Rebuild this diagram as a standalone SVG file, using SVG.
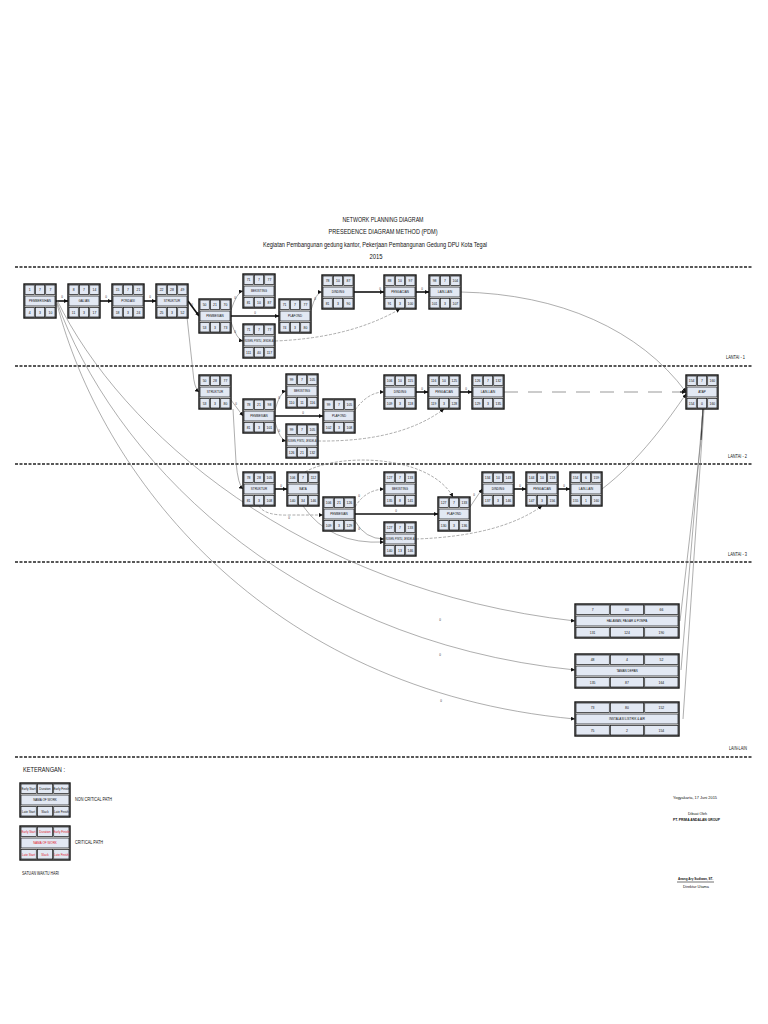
<svg xmlns="http://www.w3.org/2000/svg" xmlns:xlink="http://www.w3.org/1999/xlink" width="768" height="1024" viewBox="0 0 768 1024">
<style>
text{font-family:"Liberation Sans",Arial,sans-serif;fill:#111}
.t{font-size:3.4px;text-anchor:middle}
.nm{font-size:3px;text-anchor:middle}
.sep{stroke:#222;stroke-width:1.6;stroke-dasharray:3 1.5;fill:none}
.c{fill:#e2e8f3;stroke:#111;stroke-width:0.7}
.fr{fill:#fff;stroke:#111;stroke-width:1.4}
.crit{stroke:#111;stroke-width:1.6;fill:none}
.thin{stroke:#777;stroke-width:0.6;fill:none}
.dash{stroke:#888;stroke-width:0.7;fill:none;stroke-dasharray:3 1.5}
.ldash{stroke:#999;stroke-width:1;fill:none;stroke-dasharray:14 10}
.lag{font-size:3px;text-anchor:middle;fill:#333}
.title{font-size:8px;text-anchor:middle}
.small{font-size:4.5px}
.red text{fill:#e0202a}
</style>
<defs>
<marker id="ar" markerWidth="4" markerHeight="4" refX="4" refY="2" orient="auto" markerUnits="userSpaceOnUse"><path d="M0,0 L4,2 L0,4z" fill="#111"/></marker>
<g id="nb">
<rect class="fr" x="0" y="0" width="32" height="34"/>
<rect class="c" x="1" y="1" width="9.3" height="9.6"/><rect class="c" x="11.35" y="1" width="9.3" height="9.6"/><rect class="c" x="21.7" y="1" width="9.3" height="9.6"/>
<rect class="c" x="1" y="12" width="30" height="10"/>
<rect class="c" x="1" y="23.4" width="9.3" height="9.6"/><rect class="c" x="11.35" y="23.4" width="9.3" height="9.6"/><rect class="c" x="21.7" y="23.4" width="9.3" height="9.6"/>
</g>
<g id="lb">
<rect class="fr" x="0" y="0" width="104" height="34"/>
<rect class="c" x="1" y="1" width="33.3" height="9.6"/><rect class="c" x="35.35" y="1" width="33.3" height="9.6"/><rect class="c" x="69.7" y="1" width="33.3" height="9.6"/>
<rect class="c" x="1" y="12" width="102" height="10"/>
<rect class="c" x="1" y="23.4" width="33.3" height="9.6"/><rect class="c" x="35.35" y="23.4" width="33.3" height="9.6"/><rect class="c" x="69.7" y="23.4" width="33.3" height="9.6"/>
</g>
<g id="gb">
<rect class="fr" x="0" y="0" width="50" height="34"/>
<rect class="c" x="1" y="1" width="15.3" height="9.6"/><rect class="c" x="17.35" y="1" width="15.3" height="9.6"/><rect class="c" x="33.7" y="1" width="15.3" height="9.6"/>
<rect class="c" x="1" y="12" width="48" height="10"/>
<rect class="c" x="1" y="23.4" width="15.3" height="9.6"/><rect class="c" x="17.35" y="23.4" width="15.3" height="9.6"/><rect class="c" x="33.7" y="23.4" width="15.3" height="9.6"/>
</g>
</defs>
<rect width="768" height="1024" fill="#fff"/>

<g id="title">
<text class="title" x="383" y="222" textLength="81" lengthAdjust="spacingAndGlyphs">NETWORK PLANNING DIAGRAM</text>
<text class="title" x="383" y="234" textLength="109" lengthAdjust="spacingAndGlyphs">PRESEDENCE DIAGRAM METHOD (PDM)</text>
<text class="title" x="375" y="247" textLength="224" lengthAdjust="spacingAndGlyphs">Kegiatan Pembangunan gedung kantor, Pekerjaan Pembangunan Gedung DPU Kota Tegal</text>
<text class="title" x="376" y="259" textLength="13" lengthAdjust="spacingAndGlyphs">2015</text>
</g>

<g id="separators">
<line class="sep" x1="15" y1="267" x2="752" y2="267"/>
<line class="sep" x1="15" y1="366" x2="752" y2="366"/>
<line class="sep" x1="15" y1="464" x2="752" y2="464"/>
<line class="sep" x1="15" y1="562" x2="752" y2="562"/>
<line class="sep" x1="15" y1="757" x2="752" y2="757"/>
<text class="small" x="726" y="359" textLength="19" lengthAdjust="spacingAndGlyphs">LANTAI - 1</text>
<text class="small" x="728" y="458" textLength="19" lengthAdjust="spacingAndGlyphs">LANTAI - 2</text>
<text class="small" x="728" y="556" textLength="19" lengthAdjust="spacingAndGlyphs">LANTAI - 3</text>
<text class="small" x="729" y="750" textLength="18" lengthAdjust="spacingAndGlyphs">LAIN-LAIN</text>
</g>

<g id="connectors">
<!-- row 1 -->
<path class="crit" d="M56,301 H68" marker-end="url(#ar)"/><text class="lag" x="62" y="298">0</text>
<path class="crit" d="M100,301 H112" marker-end="url(#ar)"/><text class="lag" x="106" y="298">0</text>
<path class="crit" d="M144,301 H156" marker-end="url(#ar)"/><text class="lag" x="150" y="298">0</text>
<path class="crit" d="M188,301 L199,316" marker-end="url(#ar)"/><text class="lag" x="192" y="306">0</text>
<path class="thin" d="M231,310 Q237,292 243,291" marker-end="url(#ar)"/><text class="lag" x="235" y="299">0</text>
<path class="crit" d="M231,316 H279" marker-end="url(#ar)"/><text class="lag" x="255" y="314">0</text>
<path class="thin" d="M231,322 Q237,340 243,341" marker-end="url(#ar)"/><text class="lag" x="235" y="333">0</text>
<path class="thin" d="M311,310 Q316,292 322,292" marker-end="url(#ar)"/><text class="lag" x="315" y="300">0</text>
<path class="crit" d="M354,292 H384" marker-end="url(#ar)"/><text class="lag" x="380" y="290">0</text>
<path class="crit" d="M416,292 H429" marker-end="url(#ar)"/><text class="lag" x="422" y="290">0</text>
<path class="dash" d="M275,341 Q350,338 400,309" marker-end="url(#ar)"/>
<path class="thin" d="M461,292 C560,294 640,330 686,392" marker-end="url(#ar)"/>
<path class="thin" d="M187,317 L193,372 Q194,388 199,392" marker-end="url(#ar)"/>
<!-- fan from pembersihan -->
<path class="thin" d="M57,300 C120,430 300,590 575,621" marker-end="url(#ar)"/><text class="lag" x="440" y="621">0</text>
<path class="thin" d="M57,302 C110,450 280,640 575,670" marker-end="url(#ar)"/><text class="lag" x="440" y="656">0</text>
<path class="thin" d="M57,304 C100,470 260,690 575,719" marker-end="url(#ar)"/><text class="lag" x="441" y="702">0</text>
<!-- row 2 -->
<path class="thin" d="M231,400 L243,416" marker-end="url(#ar)"/><text class="lag" x="236" y="405">0</text>
<path class="thin" d="M275,410 Q280,392 286,391" marker-end="url(#ar)"/><text class="lag" x="279" y="399">0</text>
<path class="crit" d="M275,416 H323" marker-end="url(#ar)"/><text class="lag" x="303" y="414">0</text>
<path class="thin" d="M275,422 Q280,440 286,441" marker-end="url(#ar)"/><text class="lag" x="279" y="432">0</text>
<path class="dash" d="M355,410 Q368,392 384,392" marker-end="url(#ar)"/>
<path class="crit" d="M416,392 H428" marker-end="url(#ar)"/><text class="lag" x="422" y="390">0</text>
<path class="crit" d="M460,392 H472" marker-end="url(#ar)"/><text class="lag" x="466" y="390">0</text>
<path class="dash" d="M318,441 Q400,442 444,409" marker-end="url(#ar)"/>
<path class="ldash" d="M504,392 H686"/>
<path d="M680,392 H686" stroke="#111" stroke-width="1" marker-end="url(#ar)"/>
<path class="thin" d="M233,409 L236,462 Q238,485 243,489" marker-end="url(#ar)"/>
<!-- row 3 -->
<path class="crit" d="M275,489 H287" marker-end="url(#ar)"/><text class="lag" x="281" y="487">0</text>
<path class="dash" d="M259,506 Q265,516 290,515 H323" marker-end="url(#ar)"/><text class="lag" x="289" y="519">0</text>
<path class="dash" d="M355,507 Q365,490 384,489" marker-end="url(#ar)"/><text class="lag" x="359" y="497">0</text>
<path class="crit" d="M355,514 H438" marker-end="url(#ar)"/><text class="lag" x="396" y="512">0</text>
<path class="thin" d="M355,521 Q365,539 384,539" marker-end="url(#ar)"/><text class="lag" x="359" y="530">0</text>
<path class="thin" d="M303,506 Q330,545 384,542" marker-end="url(#ar)"/>
<path class="dash" d="M305,472 C340,452 430,455 453,497" marker-end="url(#ar)"/>
<path class="thin" d="M470,507 L482,489" marker-end="url(#ar)"/><text class="lag" x="474" y="496">0</text>
<path class="crit" d="M514,489 H526" marker-end="url(#ar)"/><text class="lag" x="520" y="487">0</text>
<path class="crit" d="M558,489 H570" marker-end="url(#ar)"/><text class="lag" x="564" y="487">0</text>
<path class="dash" d="M416,539 Q500,536 542,506" marker-end="url(#ar)"/>
<path class="thin" d="M602,489 C640,460 668,420 686,394" marker-end="url(#ar)"/>
<!-- atap to lain-lain -->
<path d="M703,409 L701,440" stroke="#222" stroke-width="1.2" fill="none"/>
<path class="thin" d="M701,440 L680,621"/>
<path class="thin" d="M703,409 L681,670"/>
<path class="thin" d="M704,409 L683,719"/>
</g>

<!-- ROW 1 -->
<g id="n01" transform="translate(24,284)"><use href="#nb"/><text class="t" x="5.6" y="7.4">1</text><text class="t" x="16" y="7.4">7</text><text class="t" x="26.4" y="7.4">7</text><text class="nm" x="16" y="18.3">PEMBERSIHAN</text><text class="t" x="5.6" y="29.7">4</text><text class="t" x="16" y="29.7">3</text><text class="t" x="26.4" y="29.7">10</text></g>
<g id="n02" transform="translate(68,284)"><use href="#nb"/><text class="t" x="5.6" y="7.4">8</text><text class="t" x="16" y="7.4">7</text><text class="t" x="26.4" y="7.4">14</text><text class="nm" x="16" y="18.3">GALIAN</text><text class="t" x="5.6" y="29.7">11</text><text class="t" x="16" y="29.7">3</text><text class="t" x="26.4" y="29.7">17</text></g>
<g id="n03" transform="translate(112,284)"><use href="#nb"/><text class="t" x="5.6" y="7.4">15</text><text class="t" x="16" y="7.4">7</text><text class="t" x="26.4" y="7.4">21</text><text class="nm" x="16" y="18.3">PONDASI</text><text class="t" x="5.6" y="29.7">18</text><text class="t" x="16" y="29.7">3</text><text class="t" x="26.4" y="29.7">24</text></g>
<g id="n04" transform="translate(156,284)"><use href="#nb"/><text class="t" x="5.6" y="7.4">22</text><text class="t" x="16" y="7.4">28</text><text class="t" x="26.4" y="7.4">49</text><text class="nm" x="16" y="18.3">STRUKTUR</text><text class="t" x="5.6" y="29.7">25</text><text class="t" x="16" y="29.7">3</text><text class="t" x="26.4" y="29.7">52</text></g>
<g id="n05" transform="translate(199,299)"><use href="#nb"/><text class="t" x="5.6" y="7.4">50</text><text class="t" x="16" y="7.4">21</text><text class="t" x="26.4" y="7.4">70</text><text class="nm" x="16" y="18.3">PEMBESIAN</text><text class="t" x="5.6" y="29.7">53</text><text class="t" x="16" y="29.7">3</text><text class="t" x="26.4" y="29.7">73</text></g>
<g id="n06" transform="translate(243,274)"><use href="#nb"/><text class="t" x="5.6" y="7.4">71</text><text class="t" x="16" y="7.4">7</text><text class="t" x="26.4" y="7.4">77</text><text class="nm" x="16" y="18.3">BEKISTING</text><text class="t" x="5.6" y="29.7">81</text><text class="t" x="16" y="29.7">10</text><text class="t" x="26.4" y="29.7">87</text></g>
<g id="n07" transform="translate(243,324)"><use href="#nb"/><text class="t" x="5.6" y="7.4">71</text><text class="t" x="16" y="7.4">7</text><text class="t" x="26.4" y="7.4">77</text><text class="nm" x="16" y="18.3" textLength="29" lengthAdjust="spacingAndGlyphs">KUSEN, PINTU, JENDELA</text><text class="t" x="5.6" y="29.7">111</text><text class="t" x="16" y="29.7">40</text><text class="t" x="26.4" y="29.7">117</text></g>
<g id="n08" transform="translate(279,299)"><use href="#nb"/><text class="t" x="5.6" y="7.4">71</text><text class="t" x="16" y="7.4">7</text><text class="t" x="26.4" y="7.4">77</text><text class="nm" x="16" y="18.3">PLAFOND</text><text class="t" x="5.6" y="29.7">74</text><text class="t" x="16" y="29.7">3</text><text class="t" x="26.4" y="29.7">80</text></g>
<g id="n09" transform="translate(322,275)"><use href="#nb"/><text class="t" x="5.6" y="7.4">78</text><text class="t" x="16" y="7.4">10</text><text class="t" x="26.4" y="7.4">87</text><text class="nm" x="16" y="18.3">DINDING</text><text class="t" x="5.6" y="29.7">81</text><text class="t" x="16" y="29.7">3</text><text class="t" x="26.4" y="29.7">90</text></g>
<g id="n10" transform="translate(384,275)"><use href="#nb"/><text class="t" x="5.6" y="7.4">88</text><text class="t" x="16" y="7.4">10</text><text class="t" x="26.4" y="7.4">97</text><text class="nm" x="16" y="18.3">PENGACIAN</text><text class="t" x="5.6" y="29.7">91</text><text class="t" x="16" y="29.7">3</text><text class="t" x="26.4" y="29.7">100</text></g>
<g id="n11" transform="translate(429,275)"><use href="#nb"/><text class="t" x="5.6" y="7.4">98</text><text class="t" x="16" y="7.4">7</text><text class="t" x="26.4" y="7.4">104</text><text class="nm" x="16" y="18.3">LAIN-LAIN</text><text class="t" x="5.6" y="29.7">101</text><text class="t" x="16" y="29.7">3</text><text class="t" x="26.4" y="29.7">107</text></g>

<!-- ROW 2 -->
<g id="n21" transform="translate(199,375)"><use href="#nb"/><text class="t" x="5.6" y="7.4">50</text><text class="t" x="16" y="7.4">28</text><text class="t" x="26.4" y="7.4">77</text><text class="nm" x="16" y="18.3">STRUKTUR</text><text class="t" x="5.6" y="29.7">53</text><text class="t" x="16" y="29.7">3</text><text class="t" x="26.4" y="29.7">80</text></g>
<g id="n22" transform="translate(243,399)"><use href="#nb"/><text class="t" x="5.6" y="7.4">78</text><text class="t" x="16" y="7.4">21</text><text class="t" x="26.4" y="7.4">98</text><text class="nm" x="16" y="18.3">PEMBESIAN</text><text class="t" x="5.6" y="29.7">81</text><text class="t" x="16" y="29.7">3</text><text class="t" x="26.4" y="29.7">101</text></g>
<g id="n23" transform="translate(286,374)"><use href="#nb"/><text class="t" x="5.6" y="7.4">99</text><text class="t" x="16" y="7.4">7</text><text class="t" x="26.4" y="7.4">105</text><text class="nm" x="16" y="18.3">BEKISTING</text><text class="t" x="5.6" y="29.7">110</text><text class="t" x="16" y="29.7">11</text><text class="t" x="26.4" y="29.7">116</text></g>
<g id="n24" transform="translate(323,399)"><use href="#nb"/><text class="t" x="5.6" y="7.4">99</text><text class="t" x="16" y="7.4">7</text><text class="t" x="26.4" y="7.4">105</text><text class="nm" x="16" y="18.3">PLAFOND</text><text class="t" x="5.6" y="29.7">102</text><text class="t" x="16" y="29.7">3</text><text class="t" x="26.4" y="29.7">108</text></g>
<g id="n25" transform="translate(286,424)"><use href="#nb"/><text class="t" x="5.6" y="7.4">99</text><text class="t" x="16" y="7.4">7</text><text class="t" x="26.4" y="7.4">105</text><text class="nm" x="16" y="18.3" textLength="29" lengthAdjust="spacingAndGlyphs">KUSEN, PINTU, JENDELA</text><text class="t" x="5.6" y="29.7">126</text><text class="t" x="16" y="29.7">21</text><text class="t" x="26.4" y="29.7">132</text></g>
<g id="n26" transform="translate(384,375)"><use href="#nb"/><text class="t" x="5.6" y="7.4">106</text><text class="t" x="16" y="7.4">10</text><text class="t" x="26.4" y="7.4">115</text><text class="nm" x="16" y="18.3">DINDING</text><text class="t" x="5.6" y="29.7">109</text><text class="t" x="16" y="29.7">3</text><text class="t" x="26.4" y="29.7">118</text></g>
<g id="n27" transform="translate(428,375)"><use href="#nb"/><text class="t" x="5.6" y="7.4">116</text><text class="t" x="16" y="7.4">10</text><text class="t" x="26.4" y="7.4">125</text><text class="nm" x="16" y="18.3">PENGACIAN</text><text class="t" x="5.6" y="29.7">119</text><text class="t" x="16" y="29.7">3</text><text class="t" x="26.4" y="29.7">128</text></g>
<g id="n28" transform="translate(472,375)"><use href="#nb"/><text class="t" x="5.6" y="7.4">126</text><text class="t" x="16" y="7.4">7</text><text class="t" x="26.4" y="7.4">132</text><text class="nm" x="16" y="18.3">LAIN-LAIN</text><text class="t" x="5.6" y="29.7">129</text><text class="t" x="16" y="29.7">3</text><text class="t" x="26.4" y="29.7">135</text></g>
<g id="n29" transform="translate(686,375)"><use href="#nb"/><text class="t" x="5.6" y="7.4">154</text><text class="t" x="16" y="7.4">7</text><text class="t" x="26.4" y="7.4">160</text><text class="nm" x="16" y="18.3">ATAP</text><text class="t" x="5.6" y="29.7">154</text><text class="t" x="16" y="29.7">0</text><text class="t" x="26.4" y="29.7">160</text></g>

<!-- ROW 3 -->
<g id="n31" transform="translate(243,472)"><use href="#nb"/><text class="t" x="5.6" y="7.4">78</text><text class="t" x="16" y="7.4">28</text><text class="t" x="26.4" y="7.4">105</text><text class="nm" x="16" y="18.3">STRUKTUR</text><text class="t" x="5.6" y="29.7">81</text><text class="t" x="16" y="29.7">3</text><text class="t" x="26.4" y="29.7">108</text></g>
<g id="n32" transform="translate(287,472)"><use href="#nb"/><text class="t" x="5.6" y="7.4">106</text><text class="t" x="16" y="7.4">7</text><text class="t" x="26.4" y="7.4">112</text><text class="nm" x="16" y="18.3">BATA</text><text class="t" x="5.6" y="29.7">140</text><text class="t" x="16" y="29.7">34</text><text class="t" x="26.4" y="29.7">146</text></g>
<g id="n33" transform="translate(323,497)"><use href="#nb"/><text class="t" x="5.6" y="7.4">106</text><text class="t" x="16" y="7.4">21</text><text class="t" x="26.4" y="7.4">126</text><text class="nm" x="16" y="18.3">PEMBESIAN</text><text class="t" x="5.6" y="29.7">109</text><text class="t" x="16" y="29.7">3</text><text class="t" x="26.4" y="29.7">129</text></g>
<g id="n34" transform="translate(384,472)"><use href="#nb"/><text class="t" x="5.6" y="7.4">127</text><text class="t" x="16" y="7.4">7</text><text class="t" x="26.4" y="7.4">133</text><text class="nm" x="16" y="18.3">BEKISTING</text><text class="t" x="5.6" y="29.7">135</text><text class="t" x="16" y="29.7">8</text><text class="t" x="26.4" y="29.7">141</text></g>
<g id="n35" transform="translate(384,522)"><use href="#nb"/><text class="t" x="5.6" y="7.4">127</text><text class="t" x="16" y="7.4">7</text><text class="t" x="26.4" y="7.4">133</text><text class="nm" x="16" y="18.3" textLength="29" lengthAdjust="spacingAndGlyphs">KUSEN, PINTU, JENDELA</text><text class="t" x="5.6" y="29.7">140</text><text class="t" x="16" y="29.7">13</text><text class="t" x="26.4" y="29.7">146</text></g>
<g id="n36" transform="translate(438,497)"><use href="#nb"/><text class="t" x="5.6" y="7.4">127</text><text class="t" x="16" y="7.4">7</text><text class="t" x="26.4" y="7.4">133</text><text class="nm" x="16" y="18.3">PLAFOND</text><text class="t" x="5.6" y="29.7">130</text><text class="t" x="16" y="29.7">3</text><text class="t" x="26.4" y="29.7">136</text></g>
<g id="n37" transform="translate(482,472)"><use href="#nb"/><text class="t" x="5.6" y="7.4">134</text><text class="t" x="16" y="7.4">10</text><text class="t" x="26.4" y="7.4">143</text><text class="nm" x="16" y="18.3">DINDING</text><text class="t" x="5.6" y="29.7">137</text><text class="t" x="16" y="29.7">3</text><text class="t" x="26.4" y="29.7">146</text></g>
<g id="n38" transform="translate(526,472)"><use href="#nb"/><text class="t" x="5.6" y="7.4">144</text><text class="t" x="16" y="7.4">10</text><text class="t" x="26.4" y="7.4">153</text><text class="nm" x="16" y="18.3">PENGACIAN</text><text class="t" x="5.6" y="29.7">147</text><text class="t" x="16" y="29.7">3</text><text class="t" x="26.4" y="29.7">156</text></g>
<g id="n39" transform="translate(570,472)"><use href="#nb"/><text class="t" x="5.6" y="7.4">154</text><text class="t" x="16" y="7.4">6</text><text class="t" x="26.4" y="7.4">159</text><text class="nm" x="16" y="18.3">LAIN-LAIN</text><text class="t" x="5.6" y="29.7">155</text><text class="t" x="16" y="29.7">1</text><text class="t" x="26.4" y="29.7">160</text></g>

<!-- LAIN-LAIN -->
<g id="l1" transform="translate(575,604)"><use href="#lb"/><text class="t" x="17.6" y="7.4">7</text><text class="t" x="52" y="7.4">60</text><text class="t" x="86.4" y="7.4">66</text><text class="nm" x="52" y="18.3">HALAMAN, PAGAR &amp; POMPA</text><text class="t" x="17.6" y="29.7">131</text><text class="t" x="52" y="29.7">124</text><text class="t" x="86.4" y="29.7">190</text></g>
<g id="l2" transform="translate(575,654)"><use href="#lb"/><text class="t" x="17.6" y="7.4">48</text><text class="t" x="52" y="7.4">4</text><text class="t" x="86.4" y="7.4">52</text><text class="nm" x="52" y="18.3">TAMAN DEPAN</text><text class="t" x="17.6" y="29.7">135</text><text class="t" x="52" y="29.7">87</text><text class="t" x="86.4" y="29.7">164</text></g>
<g id="l3" transform="translate(575,702)"><use href="#lb"/><text class="t" x="17.6" y="7.4">73</text><text class="t" x="52" y="7.4">80</text><text class="t" x="86.4" y="7.4">152</text><text class="nm" x="52" y="18.3">INSTALASI LISTRIK &amp; AIR</text><text class="t" x="17.6" y="29.7">75</text><text class="t" x="52" y="29.7">2</text><text class="t" x="86.4" y="29.7">154</text></g>

<!-- LEGEND -->
<g id="legend">
<text x="23" y="772" font-size="8" textLength="42" lengthAdjust="spacingAndGlyphs">KETERANGAN :</text>
<g transform="translate(20,783)"><use href="#gb"/><text class="nm" x="8.6" y="7.2">Early Start</text><text class="nm" x="25" y="7.2">Duration</text><text class="nm" x="41.4" y="7.2">Early Finish</text><text class="nm" x="25" y="18.3">NAMA OF WORK</text><text class="nm" x="8.6" y="29.6">Late Start</text><text class="nm" x="25" y="29.6">Slack</text><text class="nm" x="41.4" y="29.6">Late Finish</text></g>
<text class="small" x="75" y="801" textLength="37" lengthAdjust="spacingAndGlyphs">NON CRITICAL PATH</text>
<g class="red" transform="translate(20,826)"><use href="#gb"/><text class="nm" x="8.6" y="7.2">Early Start</text><text class="nm" x="25" y="7.2">Duration</text><text class="nm" x="41.4" y="7.2">Early Finish</text><text class="nm" x="25" y="18.3">NAMA OF WORK</text><text class="nm" x="8.6" y="29.6">Late Start</text><text class="nm" x="25" y="29.6">Slack</text><text class="nm" x="41.4" y="29.6">Late Finish</text></g>
<text class="small" x="75" y="844" textLength="28" lengthAdjust="spacingAndGlyphs">CRITICAL PATH</text>
<text class="small" x="22" y="875" textLength="37" lengthAdjust="spacingAndGlyphs">SATUAN WAKTU HARI</text>
</g>

<g id="signature">
<text x="673" y="799" font-size="4" textLength="44" lengthAdjust="spacingAndGlyphs">Yogyakarta, 17    Juni  2015</text>
<text x="688" y="815" font-size="4" textLength="19" lengthAdjust="spacingAndGlyphs">Dibuat Oleh</text>
<text x="673" y="821" font-size="4" font-weight="bold" textLength="47" lengthAdjust="spacingAndGlyphs">PT. PRIMA ANDALAN GROUP</text>
<text x="678" y="880" font-size="4" font-weight="bold" textLength="35" lengthAdjust="spacingAndGlyphs">Anang Ary Sudiwan, ST.</text>
<line x1="677" y1="882" x2="714" y2="882" stroke="#111" stroke-width="0.6"/>
<text x="683" y="888" font-size="4" textLength="26" lengthAdjust="spacingAndGlyphs">Direktur Utama</text>
</g>
</svg>
